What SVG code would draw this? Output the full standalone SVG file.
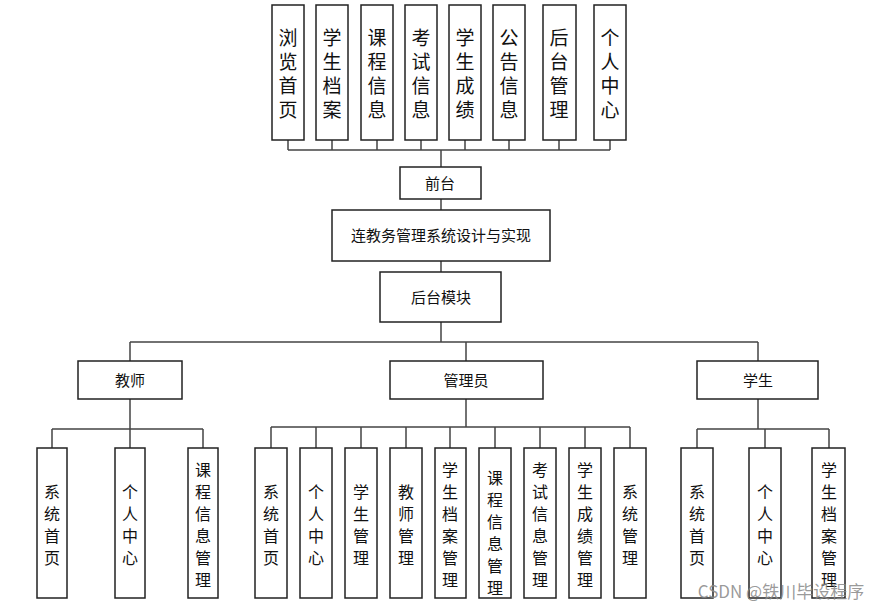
<svg xmlns="http://www.w3.org/2000/svg" width="892" height="610" viewBox="0 0 892 610">
<style>
rect{fill:#fff;stroke:#222;stroke-width:1.5}
text{font-family:"Noto Sans CJK SC","Liberation Sans",sans-serif;fill:#111;text-anchor:middle}
.v{writing-mode:vertical-rl;text-anchor:start}
.t{font-size:19px;letter-spacing:5px}.b{font-size:16px;letter-spacing:6px}.h{font-size:15px}
#c path{fill:none;stroke:#444;stroke-width:1.5}
</style>
<rect x="0" y="0" width="892" height="610" style="stroke:none"/>
<g id="c">
<path d="M288 140V150M332 140V150M377 140V150M421 140V150M465 140V150M509 140V150M559 140V150M610 140V150M288 150H610M441 150V167M441 199V210M441 261V272M441 322V342M130 342H758M130 342V361M466 342V361M758 342V361"/>
<path d="M130 399V429M52 429H203M52 429V448M130 429V448M203 429V448"/>
<path d="M466 399V427M271 427H630M271 427V448M316 427V448M361 427V448M406 427V448M450 427V448M495 427V448M540 427V448M585 427V448M630 427V448"/>
<path d="M758 399V429M697 429H829M697 429V448M765 429V448M829 429V448"/>
</g>
<g id="top">
<g id="n1"><rect x="272" y="5" width="32" height="135"/><text class="v t" x="288" y="28">浏览首页</text></g>
<g id="n2"><rect x="316" y="5" width="32" height="135"/><text class="v t" x="332" y="28">学生档案</text></g>
<g id="n3"><rect x="361" y="5" width="32" height="135"/><text class="v t" x="377" y="28">课程信息</text></g>
<g id="n4"><rect x="405" y="5" width="32" height="135"/><text class="v t" x="421" y="28">考试信息</text></g>
<g id="n5"><rect x="449" y="5" width="32" height="135"/><text class="v t" x="465" y="28">学生成绩</text></g>
<g id="n6"><rect x="493" y="5" width="32" height="135"/><text class="v t" x="509" y="28">公告信息</text></g>
<g id="n7"><rect x="543" y="5" width="33" height="135"/><text class="v t" x="559" y="28">后台管理</text></g>
<g id="n8"><rect x="594" y="5" width="32" height="135"/><text class="v t" x="610" y="28">个人中心</text></g>
</g>
<g id="front"><rect x="400" y="167" width="81" height="32"/><text class="h" x="440" y="189">前台</text></g>
<g id="main"><rect x="332" y="210" width="218" height="51"/><text class="h" x="441" y="241">连教务管理系统设计与实现</text></g>
<g id="back"><rect x="380" y="272" width="121" height="50"/><text class="h" x="441" y="303">后台模块</text></g>
<g id="teacher"><rect x="78" y="361" width="104" height="38"/><text class="h" x="130" y="386">教师</text></g>
<g id="admin"><rect x="390" y="361" width="153" height="38"/><text class="h" x="466" y="386">管理员</text></g>
<g id="student"><rect x="697" y="361" width="121" height="38"/><text class="h" x="758" y="386">学生</text></g>
<g>
<g id="t1"><rect x="37" y="448" width="30" height="150"/><text class="v b" x="52" y="484">系统首页</text></g>
<g id="t2"><rect x="115" y="448" width="30" height="150"/><text class="v b" x="130" y="484">个人中心</text></g>
<g id="t3"><rect x="188" y="448" width="30" height="150"/><text class="v b" x="203" y="462">课程信息管理</text></g>
<g id="a1"><rect x="255" y="448" width="32" height="150"/><text class="v b" x="271" y="484">系统首页</text></g>
<g id="a2"><rect x="300" y="448" width="32" height="150"/><text class="v b" x="316" y="484">个人中心</text></g>
<g id="a3"><rect x="345" y="448" width="32" height="150"/><text class="v b" x="361" y="484">学生管理</text></g>
<g id="a4"><rect x="390" y="448" width="32" height="150"/><text class="v b" x="406" y="484">教师管理</text></g>
<g id="a5"><rect x="435" y="448" width="31" height="150"/><text class="v b" x="450" y="462">学生档案管理</text></g>
<g id="a6"><rect x="479" y="448" width="32" height="150"/><text class="v b" x="495" y="470">课程信息管理</text></g>
<g id="a7"><rect x="524" y="448" width="32" height="150"/><text class="v b" x="540" y="462">考试信息管理</text></g>
<g id="a8"><rect x="569" y="448" width="32" height="150"/><text class="v b" x="585" y="462">学生成绩管理</text></g>
<g id="a9"><rect x="614" y="448" width="32" height="150"/><text class="v b" x="630" y="484">系统管理</text></g>
<g id="s1"><rect x="681" y="448" width="32" height="150"/><text class="v b" x="697" y="484">系统首页</text></g>
<g id="s2"><rect x="749" y="448" width="32" height="150"/><text class="v b" x="765" y="484">个人中心</text></g>
<g id="s3"><rect x="812" y="448" width="33" height="150"/><text class="v b" x="829" y="462">学生档案管理</text></g>
</g>
<text x="781" y="598" style="font-size:17px;fill:#888;fill-opacity:0.85">CSDN @铁川毕设程序</text>
</svg>
